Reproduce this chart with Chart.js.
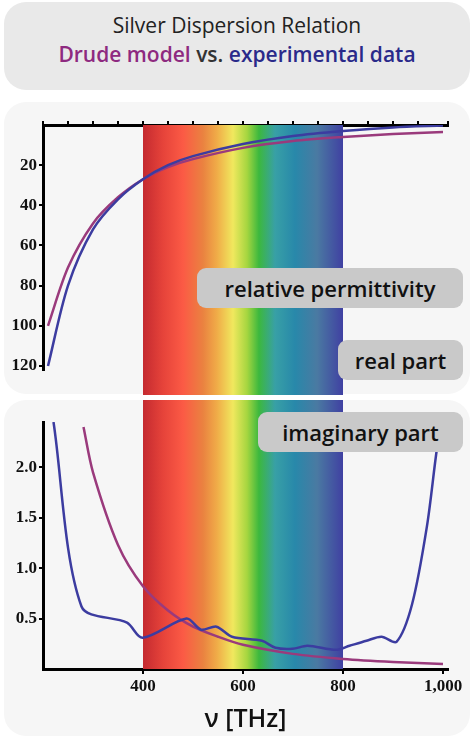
<!DOCTYPE html>
<html>
<head>
<meta charset="utf-8">
<script src="https://cdn.jsdelivr.net/npm/chart.js@4/dist/chart.umd.min.js"></script>
<style>
  body { margin:0; width:474px; height:741px; background:#fff; position:relative; overflow:hidden; font-family:"Open Sans",sans-serif; }
  .box { position:absolute; background:#f6f6f6; border-radius:22px; }
  .title { position:absolute; left:4px; top:2px; width:466px; height:88px; background:#e9e9e9; border-radius:22px; text-align:center; }
  .t1 { font-size:21px; color:#222; margin-top:9px; }
  .t2 { font-size:21px; font-weight:600; margin-top:1px; }
  .tag { position:absolute; background:#c9c9c9; border-radius:9px; font-size:22px; font-weight:600; color:#111; text-align:center; line-height:40px; height:40px; }
  canvas { position:absolute; left:0; }
</style>
</head>
<body>
<div class="title">
  <div class="t1">Silver Dispersion Relation</div>
  <div class="t2"><span style="color:#8e2a80">Drude model</span> <span style="color:#333">vs.</span> <span style="color:#2a2a8a">experimental data</span></div>
</div>
<div class="box" style="left:4px;top:102px;width:466px;height:292px"></div>
<div class="box" style="left:4px;top:400px;width:466px;height:336px"></div>
<div style="position:absolute;left:0;top:100px;width:474px;height:295px"><canvas id="top"></canvas></div>
<div style="position:absolute;left:0;top:400px;width:474px;height:335px"><canvas id="bot"></canvas></div>
<div class="tag" style="left:197px;top:268px;width:266px">relative permittivity</div>
<div class="tag" style="left:338px;top:340px;width:125px">real part</div>
<div class="tag" style="left:258px;top:412px;width:205px">imaginary part</div>
<script>
// real part (plotted as -eps, reversed axis)
const realFreq = [210, 250, 300, 350, 400, 450, 500, 600, 700, 800, 900, 1000];
const realDrude = [100, 71, 49, 36, 27, 21, 17, 11.4, 8, 6, 4.5, 3.5];
const realExp = [120, 80, 52, 37, 27, 20, 15.5, 9.5, 5.5, 3, 1.2, 0.3];

// imaginary part
const imagDrudeFreq = [281, 300, 350, 400, 450, 500, 550, 600, 700, 800, 900, 1000];
const imagDrude = [2.4, 1.95, 1.23, 0.82, 0.58, 0.42, 0.32, 0.24, 0.15, 0.10, 0.07, 0.05];
const imagExpFreq = [221, 277, 368, 399, 487, 516, 547, 578, 638, 665, 699, 729, 786, 813, 847, 877, 907, 938, 968, 988, 998];
const imagExp = [2.45, 0.62, 0.46, 0.31, 0.50, 0.39, 0.42, 0.32, 0.28, 0.21, 0.20, 0.23, 0.19, 0.23, 0.28, 0.32, 0.27, 0.64, 1.42, 2.19, 2.45];

const realTicks = [20, 40, 60, 80, 100, 120];
const freqTicks = [400, 600, 800, 1000];
const specRange = [400, 800];

const purple = '#9a3a7c', blue = '#3c3ca0';
const tickFont = { family: 'Liberation Serif', size: 17, weight: 'bold' };

function pts(xs, ys) { return xs.map((x, i) => ({ x: x, y: ys[i] })); }

function spectrum(mode) {
  return {
    id: 'spec' + mode,
    beforeDatasetsDraw(chart) {
      const c = chart.ctx, a = chart.chartArea, x = chart.scales.x;
      const x0 = x.getPixelForValue(specRange[0]), x1 = x.getPixelForValue(specRange[1]);
      const g = c.createLinearGradient(x0, 0, x1, 0);
      [[0,'#c42a30'],[0.1,'#e6433a'],[0.2,'#fb5a45'],[0.3,'#ea8240'],[0.37,'#f0ac48'],
       [0.45,'#f0e85e'],[0.52,'#a6d640'],[0.58,'#3cb83e'],[0.66,'#38a0a6'],[0.76,'#2888aa'],
       [0.87,'#4a7aa2'],[1,'#4040a2']].forEach(s => g.addColorStop(s[0], s[1]));
      c.save();
      c.fillStyle = g;
      if (mode === 'top') c.fillRect(x0, a.top, x1 - x0, chart.height - a.top);
      else c.fillRect(x0, 0, x1 - x0, a.bottom);
      c.restore();
    }
  };
}

function line(data, color) {
  return { data: data, borderColor: color, borderWidth: 2.5, pointRadius: 0, fill: false, tension: 0.3 };
}

new Chart(document.getElementById('top'), {
  type: 'line',
  data: { datasets: [line(pts(realFreq, realExp), blue), line(pts(realFreq, realDrude), purple)] },
  options: {
    responsive: true, maintainAspectRatio: false, animation: false,
    layout: { padding: { top: 25, bottom: 25, right: 26, left: 0 } },
    plugins: { legend: { display: false }, tooltip: { enabled: false } },
    scales: {
      x: {
        type: 'linear', position: 'top', min: 200, max: 1010,
        afterFit: s => { s.height = 0; },
        ticks: { display: false, stepSize: 50 },
        grid: { drawOnChartArea: false, tickLength: 4, color: '#000', lineWidth: 2 },
        border: { color: '#000', width: 3 }
      },
      y: {
        reverse: true, min: 0, max: 122,
        afterFit: s => { s.width = 43; },
        afterBuildTicks: s => { s.ticks = realTicks.map(v => ({ value: v })); },
        ticks: { color: '#111', font: tickFont, padding: 2 },
        grid: { drawOnChartArea: false, tickLength: 4, color: '#000', lineWidth: 2 },
        border: { color: '#000', width: 3 }
      }
    }
  },
  plugins: [spectrum('top')]
});

new Chart(document.getElementById('bot'), {
  type: 'line',
  data: { datasets: [line(pts(imagExpFreq, imagExp), blue), line(pts(imagDrudeFreq, imagDrude), purple)] },
  options: {
    responsive: true, maintainAspectRatio: false, animation: false,
    layout: { padding: { top: 22, bottom: 0, right: 26, left: 0 } },
    plugins: { legend: { display: false }, tooltip: { enabled: false } },
    scales: {
      x: {
        type: 'linear', min: 200, max: 1010,
        afterFit: s => { s.height = 66; },
        afterBuildTicks: s => { s.ticks = freqTicks.map(v => ({ value: v })); },
        ticks: { color: '#111', font: tickFont, padding: 2 },
        grid: { drawOnChartArea: false, tickLength: 5, color: '#000', lineWidth: 2 },
        border: { color: '#000', width: 3 },
        title: { display: true, text: 'ν [THz]', color: '#111', font: { family: 'Open Sans', size: 25, weight: '600' }, padding: 0 }
      },
      y: {
        min: 0, max: 2.45,
        afterFit: s => { s.width = 43; },
        afterBuildTicks: s => { s.ticks = [0.5, 1.0, 1.5, 2.0].map(v => ({ value: v })); },
        ticks: { color: '#111', font: tickFont, padding: 2, callback: v => v.toFixed(1) },
        grid: { drawOnChartArea: false, tickLength: 4, color: '#000', lineWidth: 2 },
        border: { color: '#000', width: 3 }
      }
    }
  },
  plugins: [spectrum('bot')]
});
</script>
</body>
</html>
